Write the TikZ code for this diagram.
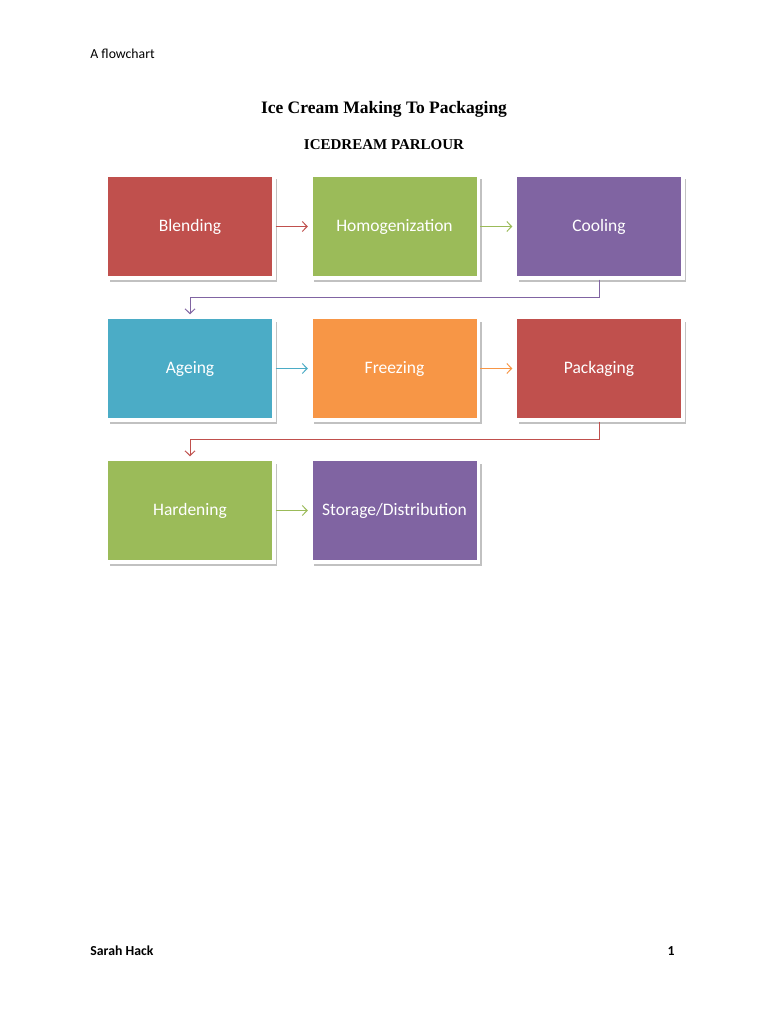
\documentclass[tikz,border=0pt]{standalone}
\usepackage{fontspec}
\setmainfont{Liberation Serif}
\newfontfamily\calibri{Carlito}
\usepackage{tikz}
\usetikzlibrary{arrows.meta,shadows}

\definecolor{boxred}{HTML}{C0504D}
\definecolor{boxgreen}{HTML}{9BBB59}
\definecolor{boxpurple}{HTML}{8064A2}
\definecolor{boxcyan}{HTML}{4BACC6}
\definecolor{boxorange}{HTML}{F79646}

\begin{document}
\begin{tikzpicture}[x=0.8pt, y=-0.8pt,
	stage/.style={draw=white, line width=2.8pt, minimum width=134pt, minimum height=82pt, inner sep=0pt,
		text=white, font=\calibri\fontsize{14}{16}\selectfont,
		drop shadow={shadow xshift=2.6pt, shadow yshift=-3.4pt, fill=black!40, opacity=.6}},
	flow/.style={-{Straight Barb[length=3.8pt,width=8pt]}, line width=0.8pt, shorten >=1pt}]
	\useasboundingbox[fill=white] (0,0) rectangle (768,1024);
	\node[anchor=west, font=\calibri\fontsize{11}{13}\selectfont] (head) at (86,54) {A flowchart};
	\node[font=\bfseries\fontsize{14}{17}\selectfont] (title) at (384,109) {Ice Cream Making To Packaging};
	\node[font=\bfseries\fontsize{12}{14}\selectfont] (sub) at (384,145) {ICEDREAM PARLOUR};
	\node[stage, fill=boxred] (blend) at (190,226.5) {Blending};
	\node[stage, fill=boxgreen] (homog) at (394.5,226.5) {Homogenization};
	\node[stage, fill=boxpurple] (cool) at (599,226.5) {Cooling};
	\node[stage, fill=boxcyan] (age) at (190,368.5) {Ageing};
	\node[stage, fill=boxorange] (freeze) at (394.5,368.5) {Freezing};
	\node[stage, fill=boxred] (pack) at (599,368.5) {Packaging};
	\node[stage, fill=boxgreen] (harden) at (190,510.5) {Hardening};
	\node[stage, fill=boxpurple] (store) at (394.5,510.5) {\raisebox{-7pt}{Storage/Distribution}};
	\draw[flow, boxred] (blend) -- (homog);
	\draw[flow, boxgreen] (homog) -- (cool);
	\draw[flow, boxpurple] (cool.south) -- ++(0,18) -| (age.north);
	\draw[flow, boxcyan] (age) -- (freeze);
	\draw[flow, boxorange] (freeze) -- (pack);
	\draw[flow, boxred] (pack.south) -- ++(0,18) -| (harden.north);
	\draw[flow, boxgreen] (harden) -- (store);
	\node[anchor=west, font=\calibri\bfseries\fontsize{11}{13}\selectfont] (author) at (86,951) {Sarah Hack};
	\node[anchor=east, font=\calibri\bfseries\fontsize{11}{13}\selectfont] (page) at (679,951) {1};
\end{tikzpicture}
\end{document}
